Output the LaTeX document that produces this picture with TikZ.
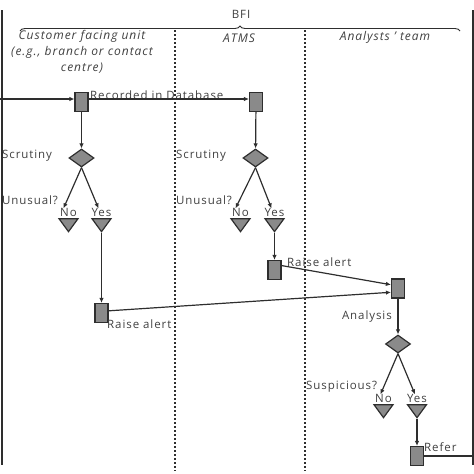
\documentclass[tikz,border=0pt]{standalone}
\usepackage{fontspec}
\setmainfont{Open Sans}[LetterSpace=8]
\usepackage{tikz}
\usetikzlibrary{positioning}
\usetikzlibrary{arrows.meta}
\usetikzlibrary{decorations.pathreplacing}
\usetikzlibrary{shapes.geometric}
\definecolor{linegray}{HTML}{2E2E2E}
\definecolor{boxgray}{HTML}{8A8A8A}
\definecolor{txtgray}{HTML}{404040}

\begin{document}
\begin{tikzpicture}[x=1pt,y=-1pt,
    font=\fontsize{11.5}{13}\selectfont, text=txtgray,
    box/.style={draw=linegray,fill=boxgray,line width=1.2pt,
        minimum width=13pt,minimum height=19pt,inner sep=0pt},
    test/.style={diamond,draw=linegray,fill=boxgray,line width=1.2pt,
        minimum width=25pt,minimum height=18pt,inner sep=0pt,aspect=1.4},
    stop/.style={isosceles triangle,shape border rotate=-90,
        isosceles triangle stretches,draw=linegray,fill=boxgray,
        line width=1.2pt,minimum width=19pt,minimum height=13pt,inner sep=0pt},
    lbl/.style={inner sep=0pt},
    head/.style={inner sep=0pt,font=\fontsize{12}{16}\selectfont\itshape},
    arr/.style={-{Latex[length=5pt,width=4.5pt]},draw=linegray,line width=1.2pt},
    lane/.style={draw=linegray,line width=1.1pt,dash pattern=on 2pt off 2pt}]
    \useasboundingbox (0,0) rectangle (474,474);

    % frame, lanes and titles
    \draw[linegray,line width=2pt] (1.5,10) -- (1.5,465);
    \draw[linegray,line width=2pt] (472.5,10) -- (472.5,465);
    \coordinate (rb) at (472.5,455);
    \draw[lane] (175,30) -- (175,471);
    \draw[lane] (305,30) -- (305,471);
    \draw[linegray,line width=0.9pt,decorate,
        decoration={brace,amplitude=5pt}] (20,31) -- (460,31);
    \node[lbl] (bfi) at (241,14) {BFI};
    \node[head,align=center,anchor=north] (cfu) at (82,30)
        {Customer facing unit\\(e.g., branch or contact\\centre)};
    \node[head] (atms) at (239,38) {ATMS};
    \node[head] (team) at (385,37) {Analysts ' team};

    % customer facing unit
    \coordinate (src) at (0,99);
    \node[box] (recA) at (81.5,102) {};
    \node[test] (scrA) at (81.5,158) {};
    \node[stop] (noA) at (68.5,223.5) {};
    \node[stop] (yesA) at (101.5,223.5) {};
    \node[lbl,above=1pt of noA] (noAl) {No};
    \node[lbl,above=1pt of yesA] (yesAl) {Yes};
    \node[box] (alertA) at (101.5,313) {};
    \node[lbl,anchor=west] at (2,156) {Scrutiny};
    \node[lbl,anchor=west] at (2,200) {Unusual?};
    \node[lbl,anchor=west] at (107,324) {Raise alert};
    \node[lbl,anchor=west] (recl) at (90,95) {Recorded in Database};

    % ATMS
    \node[box] (recB) at (256,102) {};
    \node[test] (scrB) at (255.5,158) {};
    \node[stop] (noB) at (240.5,223.5) {};
    \node[stop] (yesB) at (274.5,223.5) {};
    \node[lbl,above=1pt of noB] (noBl) {No};
    \node[lbl,above=1pt of yesB] (yesBl) {Yes};
    \node[box] (alertB) at (274.5,270) {};
    \node[lbl,anchor=west] at (176,156) {Scrutiny};
    \node[lbl,anchor=west] at (176,200) {Unusual?};
    \node[lbl,anchor=west] at (287,262) {Raise alert};

    % analysts' team
    \node[box] (anaBox) at (398,288.5) {};
    \node[test] (susC) at (398,344) {};
    \node[stop] (noC) at (383.5,409.5) {};
    \node[stop] (yesC) at (417,409.5) {};
    \node[lbl,above=1pt of noC] (noCl) {No};
    \node[lbl,above=1pt of yesC] (yesCl) {Yes};
    \node[box] (referBox) at (417,456) {};
    \node[lbl,anchor=east] at (392,317) {Analysis};
    \node[lbl,anchor=west] at (306,387) {Suspicious?};
    \node[lbl,anchor=west] at (424,447) {Refer};

    % flows
    \draw[arr] (src) -- (src -| recA.west);
    \draw[arr] (src -| recA.east) -- (src -| recB.west);
    \draw[arr] (recA) -- (scrA);
    \draw[arr] (recB) -- (scrB);
    \draw[arr] (scrA.south) -- ([xshift=-5pt]noAl.north);
    \draw[arr] (scrA.south) -- ([xshift=-3pt]yesAl.north);
    \draw[arr] (scrB.south) -- ([xshift=-5pt]noBl.north);
    \draw[arr] (scrB.south) -- ([xshift=-3pt]yesBl.north);
    \draw[arr] (yesA.south) -- (alertA.north);
    \draw[arr] (yesB.south) -- (alertB.north);
    \draw[arr] (alertB.32) -- (anaBox.152);
    \draw[arr] (alertA.17) -- (anaBox.208);
    \draw[arr] (anaBox) -- (susC);
    \draw[arr] (susC.south) -- ([xshift=-3pt]noCl.north);
    \draw[arr] (susC.south) -- ([xshift=-2pt]yesCl.north);
    \draw[arr] (yesC.south) -- (referBox.north);
    \draw[linegray,line width=1.2pt] (referBox.east) -- (referBox.east -| rb);
\end{tikzpicture}
\end{document}
